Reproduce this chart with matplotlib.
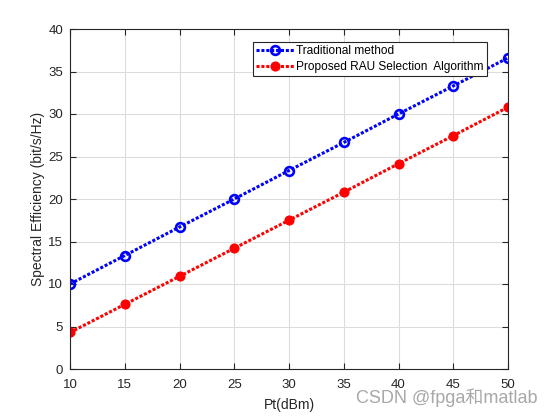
import matplotlib
matplotlib.use('Agg')
import matplotlib.pyplot as plt

pt = [10, 15, 20, 25, 30, 35, 40, 45, 50]
traditional = [10.0, 13.35, 16.7, 20.0, 23.35, 26.65, 30.0, 33.3, 36.6]
proposed = [4.3, 7.6, 10.9, 14.2, 17.5, 20.8, 24.15, 27.45, 30.8]

plt.rcParams['font.family'] = ['Liberation Sans', 'DejaVu Sans']

fig = plt.figure(figsize=(5.54, 4.17), dpi=100)
ax = fig.add_axes([70/554, 1-369/417, 438/554, 340/417])

ax.plot(pt, traditional, linestyle=(0, (1, 0.6)), color='#0000ff', linewidth=2.2,
        marker='o', markersize=6.3, markerfacecolor='none', markeredgewidth=1.9,
        label='Traditional method')
ax.plot(pt, proposed, linestyle=(0, (1, 0.6)), color='#ff0000', linewidth=2.2,
        marker='o', markersize=6.3, markerfacecolor='#ff0000',
        markeredgecolor='#ff0000', label='Proposed RAU Selection  Algorithm')

ax.set_xlim(10, 50)
ax.set_ylim(0, 40)
ax.set_xticks(range(10, 51, 5))
ax.set_yticks(range(0, 41, 5))
ax.grid(True, color='#dcdcdc', linewidth=0.8)
ax.set_axisbelow(True)
ax.tick_params(direction='in', top=True, right=True, labelsize=9.5, length=4,
               colors='#262626')
ax.tick_params(axis='x', pad=7)
ax.tick_params(axis='y', pad=5)
for s in ax.spines.values():
    s.set_color('#262626')
    s.set_linewidth(0.8)

ax.set_xlabel('Pt(dBm)', fontsize=10, color='#262626', labelpad=5)
ax.set_ylabel('Spectral Efficiency (bit/s/Hz)', fontsize=10, color='#262626', labelpad=2)

leg = ax.legend(loc='upper right', bbox_to_anchor=(0.957, 0.968), fontsize=8.6,
                fancybox=False, edgecolor='#262626', framealpha=1,
                borderpad=0.25, labelspacing=0.3, handlelength=3.3,
                handletextpad=0.1, borderaxespad=0.2)
leg.get_frame().set_linewidth(0.8)

fig.text(538/554, 1-407/417, 'CSDN @fpga和matlab', ha='right', va='bottom',
         fontsize=13, color='#a8a8a8',
         family=['Liberation Sans', 'Noto Sans CJK SC'])

fig.savefig('out.png', dpi=100)
